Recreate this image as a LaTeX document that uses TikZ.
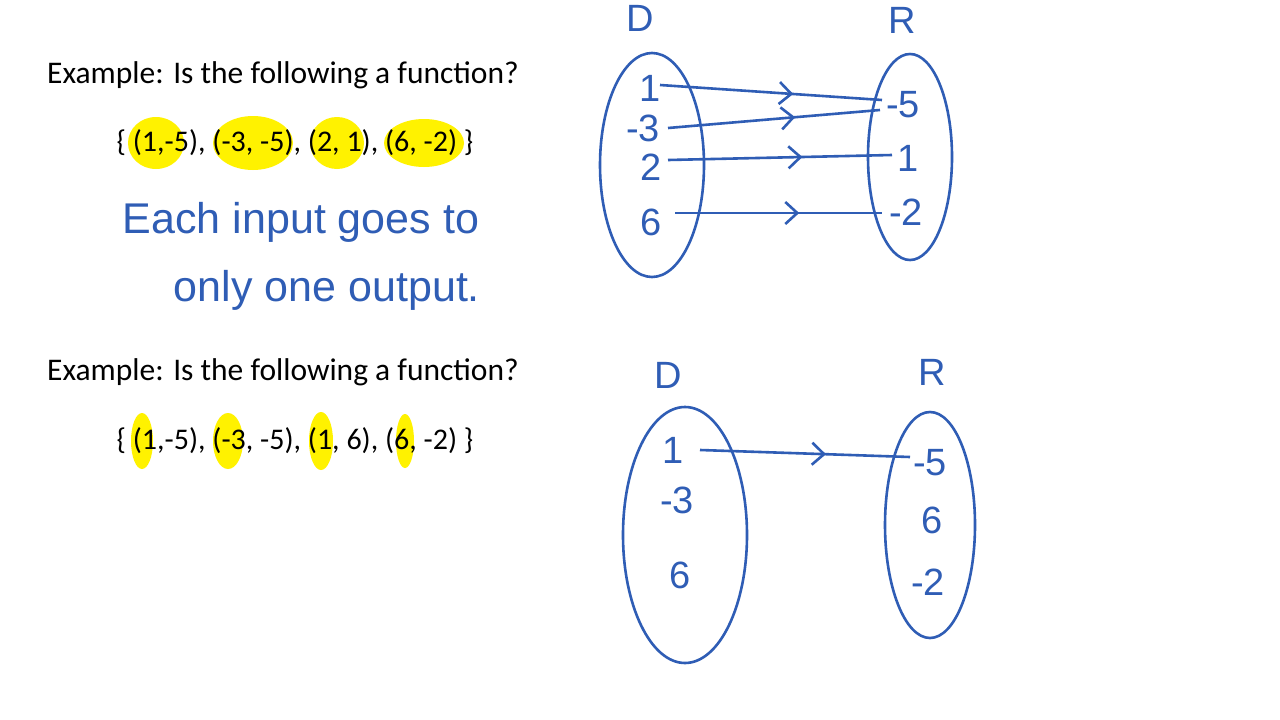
\documentclass[tikz,border=0pt]{standalone}
\usepackage{fontspec}
\setmainfont{Carlito}
\newfontfamily\hand{Liberation Sans}
\usetikzlibrary{decorations.markings,arrows.meta}
\definecolor{ink}{HTML}{2F5DB5}
\definecolor{hl}{HTML}{FFF200}
\tikzset{
  ex/.style={anchor=west,font=\fontsize{31.5}{36}\selectfont,inner sep=0},
  setx/.style={anchor=center,font=\fontsize{30}{34}\selectfont,inner sep=0},
  hw/.style={text=ink,font=\hand\fontsize{43}{48}\selectfont,inner sep=0},
  num/.style={text=ink,font=\hand\fontsize{38}{42}\selectfont,inner sep=0},
  oval/.style={draw=ink,line width=2.6pt},
  hlt/.style={fill=hl},
  maparrow/.style={draw=ink,line width=2.6pt,decoration={markings,mark=at position 0.6 with {\arrow{Straight Barb[length=12pt,width=22pt,line width=2.6pt]}}},postaction={decorate}},
}
\begin{document}
\begin{tikzpicture}[x=1pt,y=-1pt]
\useasboundingbox (0,0) rectangle (1280,720);
\fill[white] (0,0) rectangle (1280,720);
% highlights
\fill[hlt] (156,143) ellipse (28 and 26);
\fill[hlt] (253,143) ellipse (40 and 27);
\fill[hlt] (337,143) ellipse (27 and 26);
\fill[hlt] (424,143) ellipse (40 and 24);
\fill[hlt] (142,441) ellipse (11 and 28);
\fill[hlt] (228,441) ellipse (15 and 28);
\fill[hlt] (321,441) ellipse (12 and 29);
\fill[hlt] (405,441) ellipse (9 and 27);
% texts
\node[ex] (e1) at (47,75) {Example: Is the following a function?};
\node[setx] (s1) at (295,143) {\{ (1,-5), (-3, -5), (2, 1), (6, -2) \}};
\node[hw] (h1) at (301,222) {Each input goes to};
\node[hw] (h2) at (327,290) {only one output.};
\node[ex] (e2) at (47,372) {Example: Is the following a function?};
\node[setx] (s2) at (295,441) {\{ (1,-5), (-3, -5), (1, 6), (6, -2) \}};
% top mapping
\node[num] (D1) at (640,18) {D};
\node[num] (R1) at (902,20) {R};
\draw[oval] (652,165) ellipse (52 and 112);
\draw[oval] (910,157) ellipse (42 and 103);
\node[num] (a1) at (650,88) {1};
\node[num] (a2) at (643,128) {-3};
\node[num] (a3) at (651,167) {2};
\node[num] (a4) at (651,222) {6};
\node[num] (b1) at (903,105) {-5};
\node[num] (b2) at (908,158) {1};
\node[num] (b3) at (906,212) {-2};
\coordinate (p1) at (660,85); \coordinate (q1) at (882,100);
\coordinate (p2) at (668,128); \coordinate (q2) at (880,110);
\coordinate (p3) at (668,160); \coordinate (q3) at (892,155);
\coordinate (p4) at (675,213); \coordinate (q4) at (882,213);
\draw[maparrow] (p1) -- (q1);
\draw[maparrow] (p2) -- (q2);
\draw[maparrow] (p3) -- (q3);
\draw[maparrow] (p4) -- (q4);
% bottom mapping
\node[num] (D2) at (668,375) {D};
\node[num] (R2) at (932,372) {R};
\draw[oval] (685,535) ellipse (62 and 128);
\draw[oval] (930,525) ellipse (45 and 113);
\node[num] (c1) at (673,450) {1};
\node[num] (c2) at (677,500) {-3};
\node[num] (c3) at (680,575) {6};
\node[num] (d1) at (930,463) {-5};
\node[num] (d2) at (932,520) {6};
\node[num] (d3) at (928,582) {-2};
\coordinate (p5) at (700,450); \coordinate (q5) at (910,457);
\draw[maparrow] (p5) -- (q5);
\end{tikzpicture}
\end{document}
